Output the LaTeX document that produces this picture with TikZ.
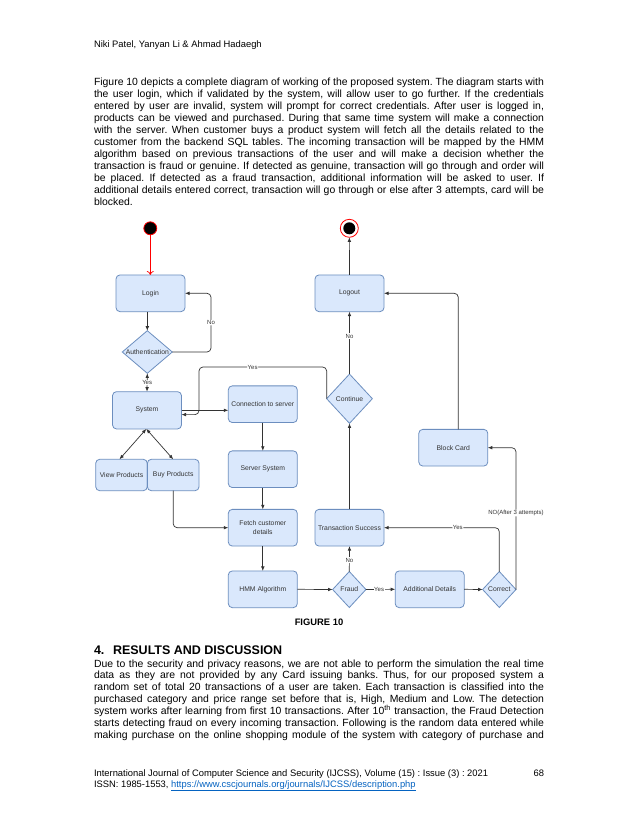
\documentclass[tikz,border=0pt]{standalone}
\usepackage{fontspec}
\setmainfont{Liberation Sans}
\usetikzlibrary{shapes.geometric,arrows.meta}
\definecolor{boxfill}{HTML}{DAE8FC}
\definecolor{boxline}{HTML}{6C8EBF}
\definecolor{linecol}{HTML}{333333}
\definecolor{urlblue}{HTML}{0563C1}
\newcommand{\jl}[1]{\makebox[450pt][s]{#1}}
\frenchspacing
\begin{document}
\frenchspacing
\begin{tikzpicture}[x=1pt,y=-1pt,
  every node/.style={inner sep=0pt, outer sep=0pt},
  body/.style={anchor=base west, font=\fontsize{10.43}{12}\selectfont\frenchspacing},
  small/.style={anchor=base west, font=\fontsize{9.38}{11}\selectfont\frenchspacing},
  box/.style={draw=boxline, fill=boxfill, rounded corners=4pt, line width=0.8pt,
    minimum width=69pt, minimum height=36.7pt, font=\fontsize{6.8}{8.7}\selectfont,
    text=linecol, align=center},
  dia/.style={diamond, draw=boxline, fill=boxfill, line width=0.8pt, inner sep=0pt,
    font=\fontsize{6.8}{8}\selectfont, text=linecol},
  lbl/.style={fill=white, font=\fontsize{6}{7}\selectfont, text=linecol, inner sep=0.6pt},
  arr/.style={draw=linecol, line width=0.7pt, -{Latex[length=4.5pt,width=3.6pt]}},
  darr/.style={draw=linecol, line width=0.7pt, {Latex[length=4.5pt,width=3.6pt]}-{Latex[length=4.5pt,width=3.6pt]}}
]
\useasboundingbox[fill=white] (0,0) rectangle (638,826);

% header
\node[small] (hdr) at (94,47.5) {Niki Patel, Yanyan Li \& Ahmad Hadaegh};

% paragraph 1
\node[body] (pa1) at (94,85.8) {\jl{Figure 10 depicts a complete diagram of working of the proposed system. The diagram starts with}};
\node[body] (pa2) at (94,97.75) {\jl{the user login, which if validated by the system, will allow user to go further. If the credentials}};
\node[body] (pa3) at (94,109.7) {\jl{entered by user are invalid, system will prompt for correct credentials. After user is logged in,}};
\node[body] (pa4) at (94,121.65) {\jl{products can be viewed and purchased. During that same time system will make a connection}};
\node[body] (pa5) at (94,133.6) {\jl{with the server. When customer buys a product system will fetch all the details related to the}};
\node[body] (pa6) at (94,145.55) {\jl{customer from the backend SQL tables. The incoming transaction will be mapped by the HMM}};
\node[body] (pa7) at (94,157.5) {\jl{algorithm based on previous transactions of the user and will make a decision whether the}};
\node[body] (pa8) at (94,169.45) {\jl{transaction is fraud or genuine. If detected as genuine, transaction will go through and order will}};
\node[body] (pa9) at (94,181.4) {\jl{be placed. If detected as a fraud transaction, additional information will be asked to user. If}};
\node[body] (pa10) at (94,193.35) {\jl{additional details entered correct, transaction will go through or else after 3 attempts, card will be}};
\node[body] (pa11) at (94,205.3) {blocked.};

% diagram
\node[circle, fill=black, draw=red, line width=0.8pt, minimum size=13pt] (start) at (150.3,228.3) {};
\node[circle, draw=red, fill=white, line width=0.8pt, minimum size=18pt] (end) at (349.3,228.3) {};
\node[circle, fill=black, minimum size=12pt] (endin) at (349.3,228.3) {};

\node[box] (login) at (150.5,293.3) {Login};
\node[box] (logout) at (349.5,293.3) {Logout};
\node[box, minimum height=37.3pt] (system) at (147,410.3) {System};
\node[box] (conn) at (262.8,404.2) {Connection to server};
\node[box] (server) at (262.8,469.2) {Server System};
\node[box] (fetch) at (262.8,527.7) {Fetch customer\\details};
\node[box] (hmm) at (262.8,589.3) {HMM Algorithm};
\node[box, minimum width=51.6pt, minimum height=31.4pt] (view) at (121.5,475) {View Products};
\node[box, minimum width=51.7pt, minimum height=31.4pt] (buy) at (173.2,475) {Buy Products};
\node[box] (ts) at (349.5,527.7) {Transaction Success};
\node[box] (block) at (453.3,447.7) {Block Card};
\node[box] (addl) at (429.7,589.3) {Additional Details};

\node[dia, minimum width=50pt, minimum height=42.6pt] (auth) at (147.3,352) {\makebox[0pt]{Authentication}};
\node[dia, minimum width=45.7pt, minimum height=49.3pt] (cont) at (349.5,398.7) {\makebox[0pt]{Continue}};
\node[dia, minimum width=33.3pt, minimum height=36pt] (fraud) at (349.3,589.5) {\makebox[0pt]{Fraud}};
\node[dia, minimum width=33.3pt, minimum height=36pt] (correct) at (499.3,589.5) {\makebox[0pt]{Correct}};

% connectors
\draw[red, line width=0.7pt, -{To[length=4pt,width=7pt]}] (start) -- (start |- login.north);
\draw[arr] (auth.north |- login.south) -- (auth.north);
\draw[arr, rounded corners=4pt] (auth.east) -- ++(38.7,0) |- node[lbl, pos=0.25] {No} (login.east);
\draw[darr] (auth.south) -- node[lbl] {Yes} (system.north);
\draw[arr] (system.east) -- (system.east -| conn.west);
\draw[arr, rounded corners=4pt] (cont.west) |- node[lbl, pos=0.79] {Yes} (199,367) |- ([yshift=-4.3pt]system.east);
\draw[arr] (conn.south) -- (server.north);
\draw[arr] (server.south) -- (fetch.north);
\draw[arr] (fetch.south) -- (hmm.north);
\draw[darr] ([xshift=-0.7pt]system.south) -- ([xshift=-2pt]view.north);
\draw[darr] ([xshift=-0.7pt]system.south) -- (buy.north);
\draw[arr, rounded corners=4pt] (buy.south) |- (fetch.west);
\draw[arr] (hmm.east) -- (fraud.west);
\draw[arr] (fraud.north) -- node[lbl, pos=0.45] {No} (ts.south);
\draw[arr] (fraud.east) -- node[lbl, pos=0.45] {Yes} (addl.west);
\draw[arr] (addl.east) -- (correct.west);
\draw[arr, rounded corners=4pt] (correct.north) |- node[lbl, pos=0.68] {Yes} (ts.east);
\draw[arr, rounded corners=4pt] (correct.east) |- node[lbl, pos=0.27] {NO(After 3 attempts)} (block.east);
\draw[arr, rounded corners=4pt] ([xshift=5pt]block.north) |- (logout.east);
\draw[arr] (ts.north) -- (cont.south);
\draw[arr] (cont.north) -- node[lbl, pos=0.61] {No} (logout.south);
\draw[arr] (logout.north) -- (end);

% caption
\node[anchor=base, font=\fontsize{9.38}{11}\selectfont\bfseries] (cap) at (319,625) {FIGURE 10};

% section heading
\node[anchor=base west, font=\fontsize{12.5}{14}\selectfont\bfseries] (sec) at (94,654.5) {4.\hspace{8.6pt}RESULTS AND DISCUSSION};

% paragraph 2
\node[body] (pb1) at (94,667) {\jl{Due to the security and privacy reasons, we are not able to perform the simulation the real time}};
\node[body] (pb2) at (94,678.9) {\jl{data as they are not provided by any Card issuing banks. Thus, for our proposed system a}};
\node[body] (pb3) at (94,690.8) {\jl{random set of total 20 transactions of a user are taken. Each transaction is classified into the}};
\node[body] (pb4) at (94,702.7) {\jl{purchased category and price range set before that is, High, Medium and Low. The detection}};
\node[body] (pb5) at (94,714.6) {\jl{system works after learning from first 10 transactions. After 10\textsuperscript{th} transaction, the Fraud Detection}};
\node[body] (pb6) at (94,726.5) {\jl{starts detecting fraud on every incoming transaction. Following is the random data entered while}};
\node[body] (pb7) at (94,738.4) {\jl{making purchase on the online shopping module of the system with category of purchase and}};

% footer
\node[small] (ft1) at (94,776.5) {International Journal of Computer Science and Security (IJCSS), Volume (15) : Issue (3) : 2021};
\node[small, anchor=base east] (pg) at (544,776.5) {68};
\node[small] (ft2) at (94,787.2) {ISSN: 1985-1553, \textcolor{urlblue}{\underline{https://www.cscjournals.org/journals/IJCSS/description.php}}};
\end{tikzpicture}
\end{document}
